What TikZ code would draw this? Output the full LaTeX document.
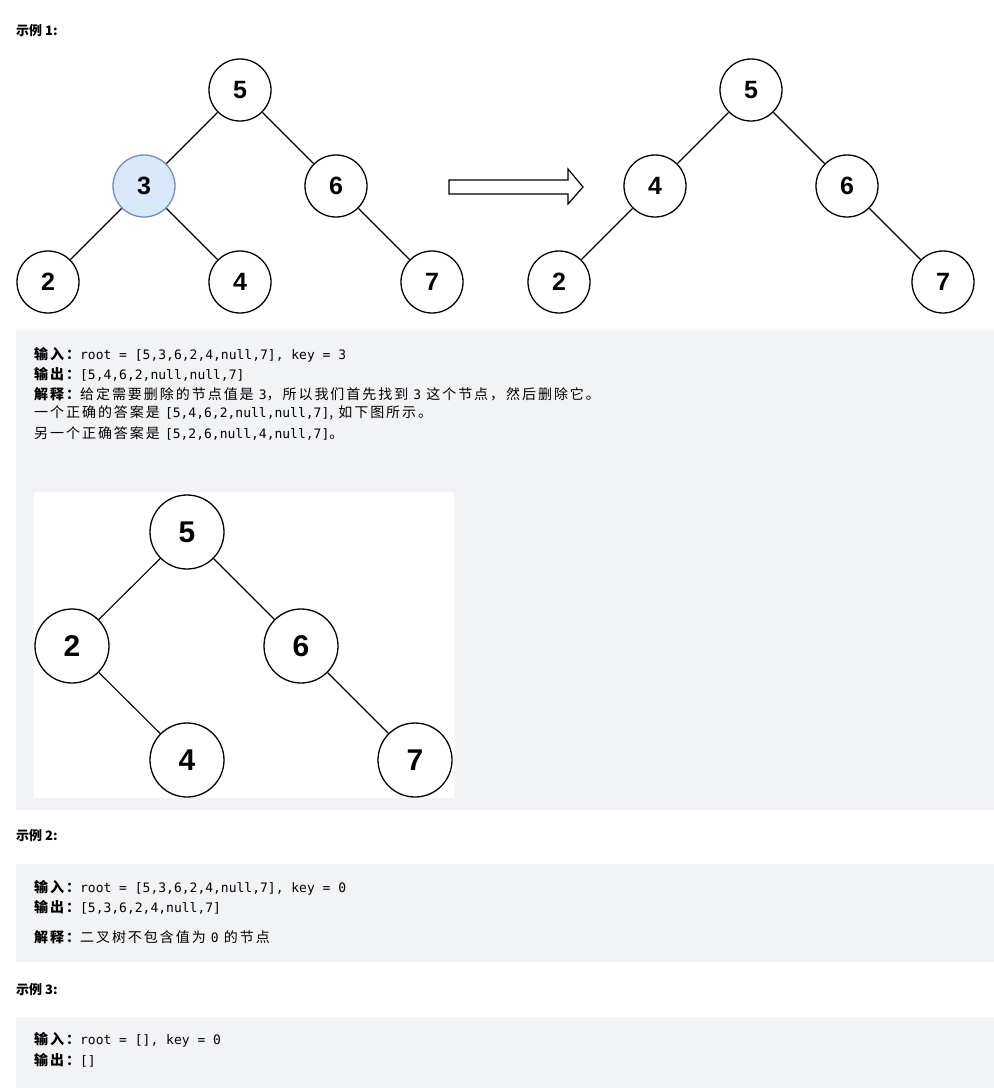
\documentclass[tikz,border=0pt]{standalone}
\usepackage{fontspec}
\setmainfont{Liberation Sans}
\setmonofont{DejaVu Sans Mono}
\newfontfamily\cjk[LetterSpace=14]{Noto Sans CJK SC}
\newfontfamily\cjklab{Noto Sans CJK SC}
\newcommand{\cd}[1]{{\ttfamily\fontsize{13}{15}\selectfont #1}}
\newcommand{\bc}[1]{{\cjk\bfseries #1}}
\definecolor{boxgrey}{HTML}{F2F3F5}
\definecolor{hlfill}{HTML}{DAE8FC}
\definecolor{hldraw}{HTML}{6C8EBF}
\begin{document}
\begin{tikzpicture}[x=1pt,y=-1pt,
  tn/.style={circle,draw=black,line width=1.3pt,fill=white,minimum size=62pt,inner sep=0pt,font=\fontsize{25}{25}\selectfont\bfseries},
  tnb/.style={tn,minimum size=74pt,font=\fontsize{30}{30}\selectfont\bfseries},
  ed/.style={line width=1.1pt},
  txt/.style={anchor=west,inner sep=0pt,font=\cjk\fontsize{14}{16}\selectfont},
  lab/.style={anchor=west,inner sep=0pt,font=\cjklab\bfseries\fontsize{13}{15}\selectfont}]
\useasboundingbox (0,0) rectangle (994,1088);
\fill[white] (0,0) rectangle (994,1088);
\node[lab] (l1) at (16,31) {示例 1:};
% tree 1
\node[tn] (a5) at (240,90) {5};
\node[tn,fill=hlfill,draw=hldraw] (a3) at (144,186) {3};
\node[tn] (a6) at (336,186) {6};
\node[tn] (a2) at (48,282) {2};
\node[tn] (a4) at (240,282) {4};
\node[tn] (a7) at (432,282) {7};
\draw[ed] (a5)--(a3) (a5)--(a6) (a3)--(a2) (a3)--(a4) (a6)--(a7);
% arrow
\draw[line width=1.2pt,fill=white] (449,180)--(568,180)--(568,169)--(583,187)--(568,204)--(568,194)--(449,194)--cycle;
% tree 2
\node[tn] (b5) at (751,90) {5};
\node[tn] (b4) at (655,186) {4};
\node[tn] (b6) at (847,186) {6};
\node[tn] (b2) at (559,282) {2};
\node[tn] (b7) at (943,282) {7};
\draw[ed] (b5)--(b4) (b5)--(b6) (b4)--(b2) (b6)--(b7);
% box 1
\fill[boxgrey] (16,330) rectangle (994,810);
\node[txt] (t1) at (34,355) {\bc{输入：}\cd{root = [5,3,6,2,4,null,7], key = 3}};
\node[txt] (t2) at (34,374) {\bc{输出：}\cd{[5,4,6,2,null,null,7]}};
\node[txt] (t3) at (34,394) {\bc{解释：}给定需要删除的节点值是\ \cd{3}，所以我们首先找到\ \cd{3}\ 这个节点，然后删除它。};
\node[txt] (t4) at (34,413) {一个正确的答案是\ \cd{[5,4,6,2,null,null,7]},\ 如下图所示。};
\node[txt] (t5) at (34,433) {另一个正确答案是\ \cd{[5,2,6,null,4,null,7]}。};
\begin{scope}
\clip (34,492) rectangle (454,798);
\fill[white] (34,492) rectangle (454,798);
\node[tnb] (c5) at (187,532) {5};
\node[tnb] (c2) at (72,646) {2};
\node[tnb] (c6) at (301,646) {6};
\node[tnb] (c4) at (187,760) {4};
\node[tnb] (c7) at (415,760) {7};
\draw[ed] (c5)--(c2) (c5)--(c6) (c2)--(c4) (c6)--(c7);
\end{scope}
\node[lab] (l2) at (16,836) {示例 2:};
\fill[boxgrey] (16,864) rectangle (994,962);
\node[txt] (u1) at (34,888) {\bc{输入：}\cd{root = [5,3,6,2,4,null,7], key = 0}};
\node[txt] (u2) at (34,907) {\bc{输出：}\cd{[5,3,6,2,4,null,7]}};
\node[txt] (u3) at (34,937) {\bc{解释：}二叉树不包含值为\ \cd{0}\ 的节点};
\node[lab] (l3) at (16,990) {示例 3:};
\fill[boxgrey] (16,1017) rectangle (994,1088);
\node[txt] (v1) at (34,1040) {\bc{输入：}\cd{root = [], key = 0}};
\node[txt] (v2) at (34,1060) {\bc{输出：}\cd{[]}};
\end{tikzpicture}
\end{document}
